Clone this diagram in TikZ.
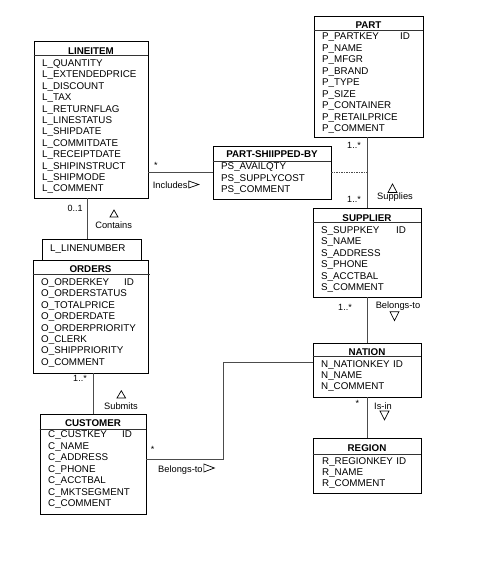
\documentclass[tikz,border=0pt]{standalone}
\usepackage{fontspec}
\setmainfont{Liberation Sans}
\usetikzlibrary{fit}
\tikzset{
  ebox/.style={draw=black, line width=0.8pt, inner sep=0pt},
  hline/.style={draw=black!80, line width=0.8pt},
  conn/.style={draw=black!70, line width=0.8pt},
  ttl/.style={anchor=base, inner sep=0pt, font=\fontsize{9.8}{11.4}\selectfont\bfseries},
  attr/.style={anchor=base west, inner sep=0pt, font=\fontsize{9.8}{11.4}\selectfont},
  lab/.style={anchor=base, inner sep=0pt, font=\fontsize{9.3}{11}\selectfont},
  mult/.style={anchor=base, inner sep=0pt, font=\fontsize{9}{11}\selectfont},
  tri/.style={draw=black, line width=0.7pt, line join=miter},
}
\newcommand\attrlist[5]{%
  \foreach \a [count=\i from 0] in {#5} \node[attr] (#1-\i) at (#2,{#3+\i*#4}) {\a};}
\begin{document}
\begin{tikzpicture}[x=1pt,y=-1pt]
\useasboundingbox[fill=white] (0,0) rectangle (485,566);

% LINEITEM
\node[ebox, fit={(34,41) (148,198)}] (lineitem) {};
\draw[hline] ([yshift=-15pt]lineitem.north west) -- ([yshift=-15pt]lineitem.north east);
\node[ttl] (lineitem-t) at (91,54.5) {LINEITEM};
\attrlist{li}{42}{66.5}{11.4}{L\_QUANTITY,L\_EXTENDEDPRICE,L\_DISCOUNT,L\_TAX,L\_RETURNFLAG,L\_LINESTATUS,L\_SHIPDATE,L\_COMMITDATE,L\_RECEIPTDATE,L\_SHIPINSTRUCT,L\_SHIPMODE,L\_COMMENT}

% PART
\node[ebox, fit={(314,16) (423,137)}] (part) {};
\draw[hline] ([yshift=-15pt]part.north west) -- ([yshift=-15pt]part.north east);
\node[ttl] (part-t) at (368.5,28.5) {PART};
\attrlist{pa}{322}{39.5}{11.5}{P\_PARTKEY,P\_NAME,P\_MFGR,P\_BRAND,P\_TYPE,P\_SIZE,P\_CONTAINER,P\_RETAILPRICE,P\_COMMENT}
\node[attr] (pa-id) at (400,39.5) {ID};

% PART-SHIIPPED-BY
\node[ebox, fit={(213,146) (331,199)}] (psb) {};
\draw[hline] ([yshift=-16pt]psb.north west) -- ([yshift=-16pt]psb.north east);
\node[ttl] (psb-t) at (272,157.5) {PART-SHIIPPED-BY};
\attrlist{ps}{221}{169.5}{11.5}{PS\_AVAILQTY,PS\_SUPPLYCOST,PS\_COMMENT}

% SUPPLIER
\node[ebox, fit={(313,208) (421,297)}] (supplier) {};
\draw[hline] ([yshift=-15pt]supplier.north west) -- ([yshift=-15pt]supplier.north east);
\node[ttl] (supplier-t) at (367,221.5) {SUPPLIER};
\attrlist{su}{321}{233.5}{11.4}{S\_SUPPKEY,S\_NAME,S\_ADDRESS,S\_PHONE,S\_ACCTBAL,S\_COMMENT}
\node[attr] (su-id) at (396,233.5) {ID};

% NATION
\node[ebox, fit={(313,343) (421,397)}] (nation) {};
\draw[hline] ([yshift=-14pt]nation.north west) -- ([yshift=-14pt]nation.north east);
\node[ttl] (nation-t) at (367,355.5) {NATION};
\attrlist{na}{321}{367.5}{11.2}{N\_NATIONKEY\hspace{3.5pt}ID,N\_NAME,N\_COMMENT}

% REGION
\node[ebox, fit={(313,438) (421,493)}] (region) {};
\draw[hline] ([yshift=-17pt]region.north west) -- ([yshift=-17pt]region.north east);
\node[ttl] (region-t) at (367,451.5) {REGION};
\attrlist{re}{322}{464.5}{11}{R\_REGIONKEY\hspace{3.5pt}ID,R\_NAME,R\_COMMENT}

% L_LINENUMBER
\node[ebox, fit={(42,239) (141,260.5)}] (linenum) {};
\node[attr] (linenum-t) at (50,251.5) {L\_LINENUMBER};

% ORDERS
\node[ebox, fit={(33,260.5) (148,373)}] (orders) {};
\draw[hline] ([yshift=-14.5pt]orders.north west) -- ([yshift=-14.5pt,xshift=2pt]orders.north east);
\node[ttl] (orders-t) at (90.5,272.5) {ORDERS};
\attrlist{or}{41}{285.5}{11.4}{O\_ORDERKEY,O\_ORDERSTATUS,O\_TOTALPRICE,O\_ORDERDATE,O\_ORDERPRIORITY,O\_CLERK,O\_SHIPPRIORITY,O\_COMMENT}
\node[attr] (or-id) at (124,285.5) {ID};

% CUSTOMER
\node[ebox, fit={(40,414) (146,514)}] (customer) {};
\draw[hline] ([yshift=-16pt]customer.north west) -- ([yshift=-16pt]customer.north east);
\node[ttl] (customer-t) at (93,426.5) {CUSTOMER};
\attrlist{cu}{48}{437.5}{11.55}{C\_CUSTKEY,C\_NAME,C\_ADDRESS,C\_PHONE,C\_ACCTBAL,C\_MKTSEGMENT,C\_COMMENT}
\node[attr] (cu-id) at (122,437.5) {ID};

% connectors
\draw[conn] ([xshift=-4pt]lineitem.south) -- ([xshift=-4.5pt]linenum.north);
\draw[conn] (psb.west) -- (psb.west -| lineitem.east);
\draw[conn] (part.south -| supplier.north) -- (supplier.north);
\coordinate (sj) at (psb.east -| supplier.north);
\draw[conn, dash pattern=on 1.5pt off 1pt, line width=0.6pt] (psb.east) -- (sj);
\draw[conn] (supplier.south) -- (nation.north);
\draw[conn] (nation.south) -- (region.north);
\draw[conn] (customer.north) -- (customer.north |- orders.south);
\coordinate (cb) at (223,459);
\coordinate (ct) at (223,362);
\draw[conn] (cb -| customer.east) -- (cb) -- (ct) -- (ct -| nation.west);

% multiplicities
\node[mult] (m1) at (156,168.5) {*};
\node[mult] (m2) at (354,148.5) {1..*};
\node[mult] (m3) at (354,202.5) {1..*};
\node[mult] (m4) at (75.2,211.7) {0..1};
\node[mult] (m5) at (345,310) {1..*};
\node[mult] (m6) at (357.3,406.5) {*};
\node[mult] (m7) at (80,381.7) {1..*};
\node[mult] (m8) at (152.7,452.5) {*};

% role labels
\node[lab] (l-contains) at (113.7,228.5) {Contains};
\node[lab, anchor=base west] (l-includes) at (152.7,188) {Includes};
\node[lab] (l-supplies) at (395,199.5) {Supplies};
\node[lab] (l-belongs1) at (398,308) {Belongs-to};
\node[lab] (l-isin) at (383,409.3) {Is-in};
\node[lab] (l-submits) at (121,409.3) {Submits};
\node[lab, anchor=base west] (l-belongs2) at (158,472) {Belongs-to};

% direction triangles
\draw[tri] (114,210) -- (118,217) -- (110,217) -- cycle;
\draw[tri] (392.5,184) -- (397,192.5) -- (388,192.5) -- cycle;
\draw[tri] (121.3,390.7) -- (125.6,398) -- (117,398) -- cycle;
\draw[tri] (390,311.7) -- (399,311.7) -- (394.5,320.5) -- cycle;
\draw[tri] (380,411) -- (389,411) -- (384.5,419.8) -- cycle;
\draw[tri] (l-includes.base east) ++(1,0) -- ++(0,-7) -- ++(10,3.5) -- cycle;
\draw[tri] (l-belongs2.base east) ++(1,0) -- ++(0,-8) -- ++(10.5,4) -- cycle;
\end{tikzpicture}
\end{document}
